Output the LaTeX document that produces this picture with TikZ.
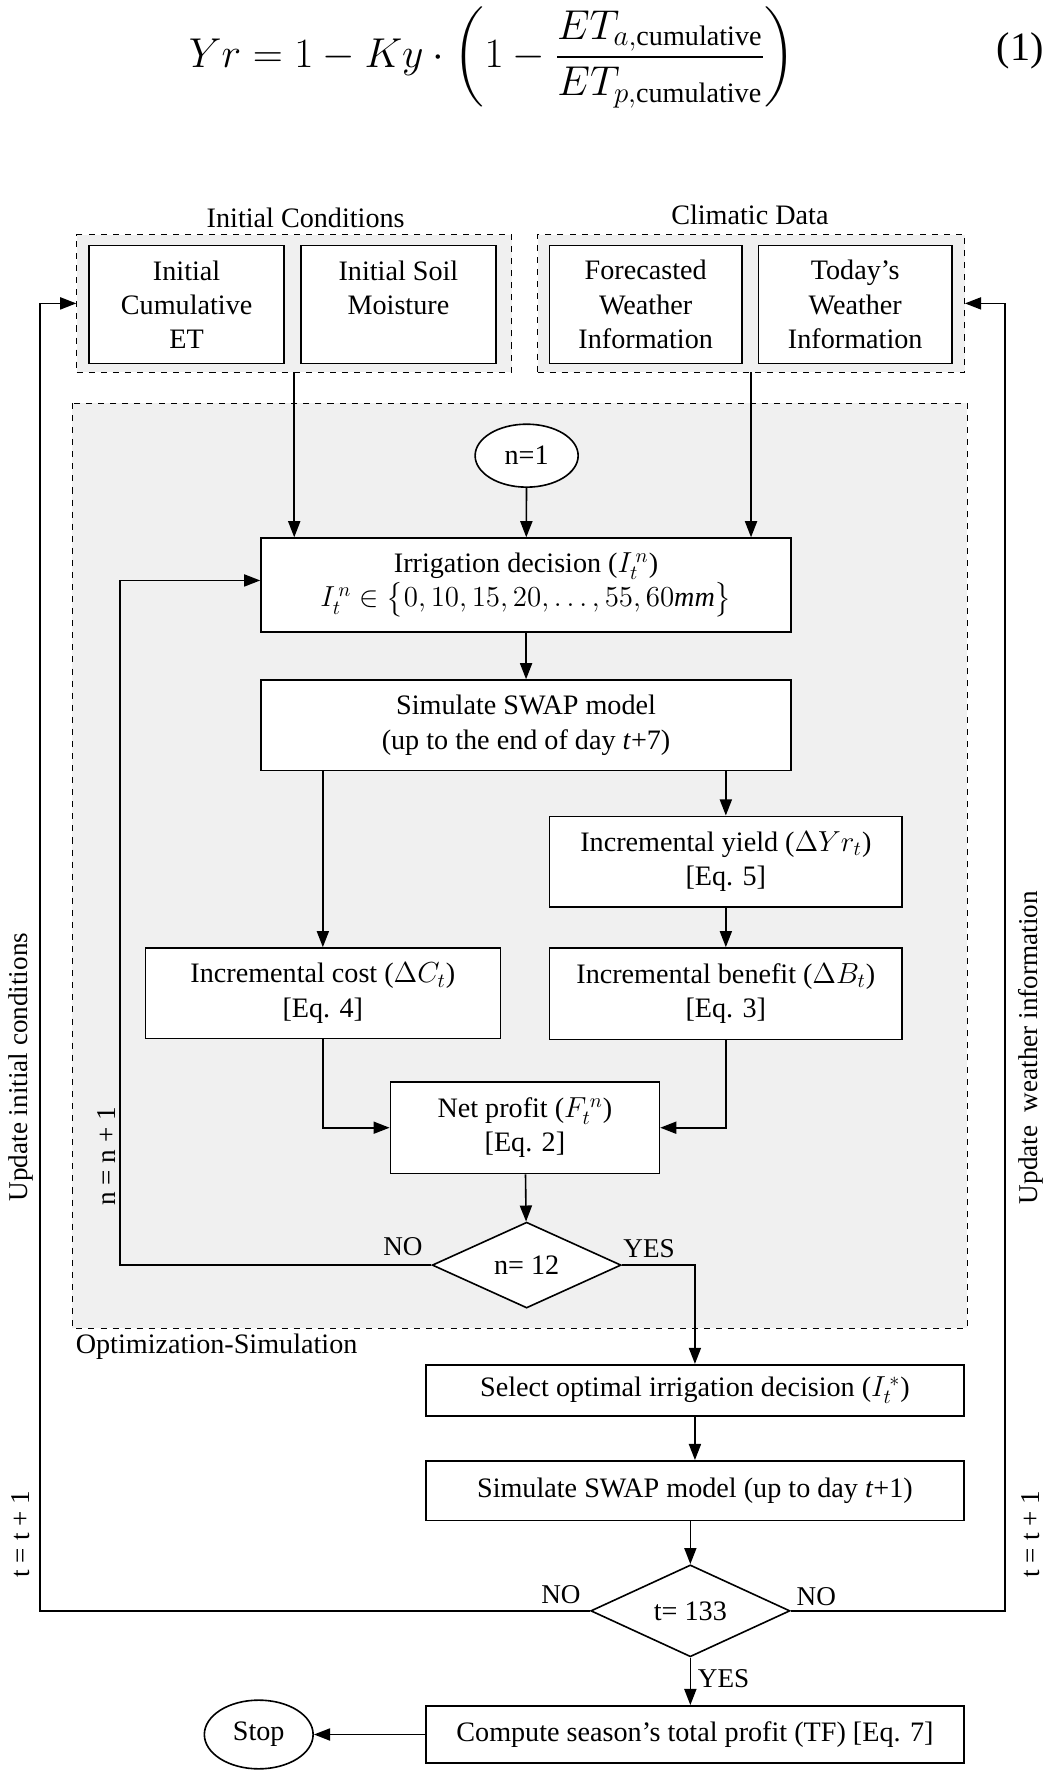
\documentclass[tikz,border=0pt]{standalone}
\usepackage{amsmath}
\usepackage{fontspec}
\setmainfont{Liberation Serif}
\usetikzlibrary{shapes.geometric,arrows.meta,calc}
\newdimen\pxu \pxu=0.02cm
\tikzset{
  box/.style={draw,thick,rectangle,align=center,inner sep=0pt},
  grp/.style={draw,dashed,fill=black!6,inner sep=0pt},
  dec/.style={draw,thick,diamond,inner sep=0pt},
  arr/.style={thick,-{Triangle[length=8pt,width=6pt]}},
  lbl/.style={font=\fontsize{13.5}{16}\selectfont}
}
\begin{document}
\begin{tikzpicture}[x=0.02cm,y=-0.02cm,font=\fontsize{14}{17}\selectfont]
\useasboundingbox (0,0) rectangle (920,1560);
% equation
\node (eqn) at (430,50) {\fontsize{20}{24}\selectfont$Yr=1-Ky\cdot\left(1-\dfrac{ET_{a,\text{cumulative}}}{ET_{p,\text{cumulative}}}\right)$};
\node[anchor=east] (eqnum) at (918,44) {\fontsize{20}{24}\selectfont(1)};
% optimization region
\draw[dashed,fill=black!6] (63,352) rectangle (845,1160);
\node[anchor=west] (optlbl) at (60,1176) {Optimization-Simulation};
% input groups
\node[grp,minimum width=380\pxu,minimum height=120\pxu] (icgroup) at (257,265) {};
\node[grp,minimum width=373\pxu,minimum height=120\pxu] (cdgroup) at (656,265) {};
\node (iclbl) at (267,190) {Initial Conditions};
\node (cdlbl) at (655,188) {Climatic Data};
\node[box,fill=white,minimum width=170\pxu,minimum height=103\pxu] (ic1) at (163,266) {Initial\\Cumulative\\ET};
\node[box,fill=white,minimum width=170\pxu,minimum height=103\pxu] (ic2) at (348,266) {Initial Soil\\Moisture\\\phantom{M}};
\node[box,fill=white,minimum width=168\pxu,minimum height=103\pxu] (cd1) at (564,266) {Forecasted\\Weather\\Information};
\node[box,fill=white,minimum width=169\pxu,minimum height=103\pxu] (cd2) at (747,266) {Today's\\Weather\\Information};
% main chain
\node[draw,thick,ellipse,fill=white,minimum width=90\pxu,minimum height=55\pxu,inner sep=0pt] (n1) at (460,398) {n=1};
\node[box,fill=white,minimum width=463\pxu,minimum height=82\pxu] (irr) at (459.5,511) {Irrigation decision ($I_t^{\,n}$)\\$I_t^{\,n}\in\bigl\{0,10,15,20,\ldots,55,60\mathit{mm}\bigr\}$};
\node[box,fill=white,minimum width=463\pxu,minimum height=79\pxu] (swap) at (459.5,633.5) {Simulate SWAP model\\(up to the end of day \textit{t}+7)};
\node[box,fill=white,minimum width=308\pxu,minimum height=79\pxu] (yield) at (634,752.5) {Incremental yield ($\Delta Yr_t$)\\{}[Eq. 5]};
\node[box,fill=white,minimum width=310\pxu,minimum height=79\pxu] (cost) at (282,867.5) {Incremental cost ($\Delta C_t$)\\{}[Eq. 4]};
\node[box,fill=white,minimum width=308\pxu,minimum height=80\pxu] (benefit) at (634,868) {Incremental benefit ($\Delta B_t$)\\{}[Eq. 3]};
\node[box,fill=white,minimum width=235\pxu,minimum height=80\pxu] (net) at (458.5,985) {Net profit ($F_t^{\,n}$)\\{}[Eq. 2]};
\node[dec,fill=white,minimum width=165\pxu,minimum height=75\pxu] (dec1) at (460,1105) {n= 12};
\node[box,minimum width=470\pxu,minimum height=45\pxu] (select) at (607,1214.5) {Select optimal irrigation decision ($I_t^{\,*}$)};
\node[box,minimum width=470\pxu,minimum height=52\pxu] (swap2) at (607,1302) {Simulate SWAP model (up to day \textit{t}+1)};
\node[dec,minimum width=174\pxu,minimum height=78\pxu] (dec2) at (603,1407) {t= 133};
\node[box,minimum width=470\pxu,minimum height=50\pxu] (comp) at (607,1515) {Compute season's total profit (TF) [Eq. 7]};
\node[draw,thick,ellipse,minimum width=95\pxu,minimum height=60\pxu,inner sep=0pt] (stop) at (226,1515) {Stop};
% helper points
\coordinate (loopn) at (105,1105);
\coordinate (upl) at (35,265);
\coordinate (upr) at (878,265);
% connectors
\draw[arr] (icgroup.south) -- (icgroup.south |- irr.north);
\draw[arr] (cdgroup.south) -- (cdgroup.south |- irr.north);
\draw[arr] (n1) -- (irr);
\draw[arr] (irr) -- (swap);
\draw[arr] (swap.south -| yield.north) -- (yield.north);
\draw[arr] (swap.south -| cost.north) -- (cost.north);
\draw[arr] (yield) -- (benefit);
\draw[arr] (cost.south) |- (net.west);
\draw[arr] (benefit.south) |- (net.east);
\draw[arr] (net) -- (dec1);
\draw[arr] (dec1.west) -- (loopn) |- ($(irr.west)+(0,-4)$);
\draw[arr] (dec1.east) -| (select.north);
\draw[arr] (select) -- (swap2);
\draw[arr] (swap2.south -| dec2.north) -- (dec2.north);
\draw[arr] (dec2.south) -- (dec2.south |- comp.north);
\draw[arr] (comp.west) -- (stop.east);
\draw[arr] (dec2.west) -| (upl) -- (upl -| icgroup.west);
\draw[arr] (dec2.east) -| (upr) -- (upr -| cdgroup.east);
% labels
\node[lbl] (no1) at (352,1089) {NO};
\node[lbl] (yes1) at (567,1091) {YES};
\node[lbl,rotate=90] (nn) at (93,1010) {n = n + 1};
\node[lbl] (no2) at (490,1393) {NO};
\node[lbl] (no3) at (713,1395) {NO};
\node[lbl] (yes2) at (632,1466) {YES};
\node[lbl,rotate=90] (tl) at (18,1340) {t = t + 1};
\node[lbl,rotate=90] (ul) at (18,932) {Update initial conditions};
\node[lbl,rotate=90] (tr) at (900,1340) {t = t + 1};
\node[lbl,rotate=90] (ur) at (900,915) {Update\ \ weather information};
\end{tikzpicture}
\end{document}
